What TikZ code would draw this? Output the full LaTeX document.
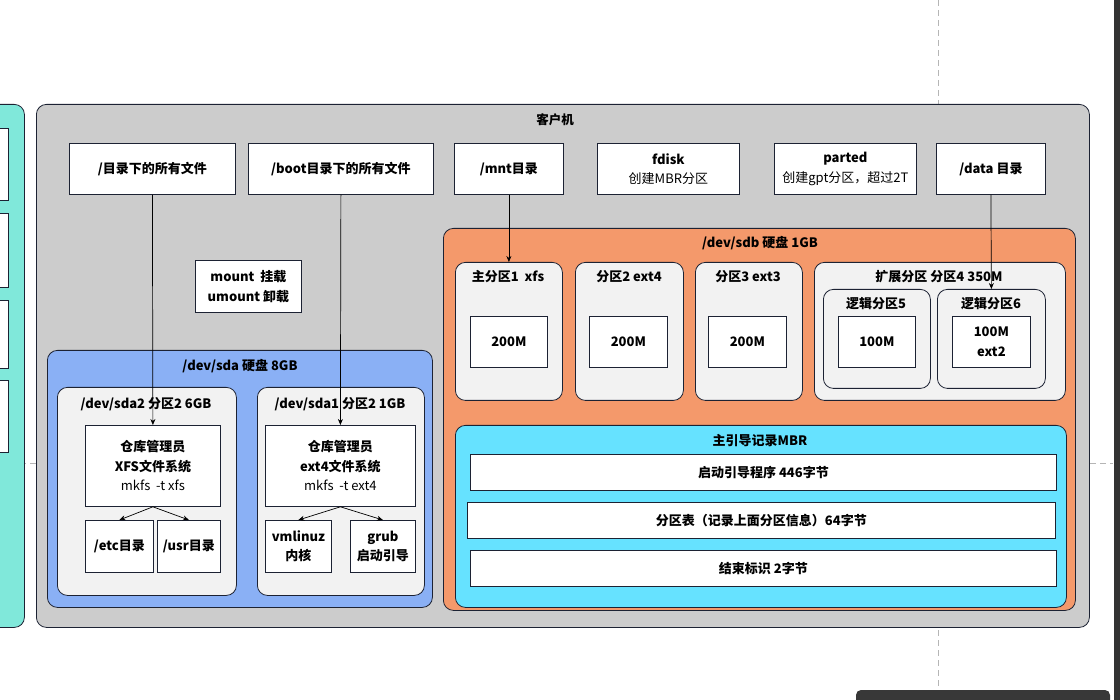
\documentclass[tikz,border=0pt]{standalone}
\usepackage{fontspec}
\setmainfont{Noto Sans CJK SC}
\usetikzlibrary{arrows.meta}
\definecolor{bd}{HTML}{1C2233}
\definecolor{graybg}{HTML}{CCCCCC}
\definecolor{aqua}{HTML}{80E8DA}
\definecolor{bluebg}{HTML}{8AB0F5}
\definecolor{orangebg}{HTML}{F4996B}
\definecolor{cyanbg}{HTML}{66E2FF}
\definecolor{partbg}{HTML}{F2F2F2}
\definecolor{guide}{HTML}{B5B5B5}
\newcommand{\cbox}[6]{\node[cont, fill=#6, anchor=north west, minimum width={(#4-#2)*1pt}, minimum height={(#5-#3)*1pt}] (#1) at (#2,#3) {};}
\newcommand{\wb}[6]{\node[wbox, anchor=north west, minimum width={(#4-#2)*1pt}, minimum height={(#5-#3)*1pt}] (#1) at (#2,#3) {#6};}
\begin{document}
\begin{tikzpicture}[x=1pt,y=-1pt,
  every node/.style={font=\fontsize{13}{19.5}\selectfont, text=black},
  wbox/.style={draw=bd, fill=white, line width=0.8pt, align=center, inner sep=0pt},
  cont/.style={draw=bd, line width=0.8pt, rounded corners=10pt, inner sep=0pt},
  ttl/.style={font=\fontsize{13}{19.5}\selectfont\bfseries, inner sep=0pt},
  arr/.style={-{Stealth[length=6pt,width=5pt]}, line width=0.7pt, black},
  guideline/.style={draw=guide, line width=0.8pt, dash pattern=on 6pt off 4pt}]
\useasboundingbox (0,0) rectangle (1120,700);
% screen guides
\coordinate (g1) at (938,0); \coordinate (g2) at (938,690);
\coordinate (g3) at (0,463); \coordinate (g4) at (1113,463);
\draw[guideline] (g1) -- (g2);
\draw[guideline] (g3) -- (g4);
% left partial panel
\cbox{left}{-30}{104}{24}{627}{aqua}
\wb{l1}{-20}{128}{8}{200}{}
\wb{l2}{-20}{213}{8}{287}{}
\wb{l3}{-20}{300}{8}{368}{}
\wb{l4}{-20}{380}{8}{452}{}
% main container
\cbox{host}{36}{104}{1089}{627}{graybg}
\node[ttl, font=\fontsize{12.5}{19}\selectfont\bfseries] (thost) at (555,120) {客户机};
% top row
\wb{root}{69}{143}{235}{194}{\bfseries /目录下的所有文件}
\wb{boot}{248}{143}{433}{194}{\bfseries /boot目录下的所有文件}
\wb{mnt}{454}{143}{563}{194}{\bfseries /mnt目录}
\wb{fdisk}{597}{143}{739}{194}{{\bfseries fdisk}\\创建MBR分区}
\wb{parted}{774}{143}{916}{194}{{\bfseries parted}\\创建gpt分区，超过2T}
\wb{data}{936}{143}{1045}{194}{\bfseries /data 目录}
\wb{mount}{195}{260}{301}{312}{{\bfseries mount\ \ 挂载}\\{\bfseries umount 卸载}}
% sda
\cbox{sda}{47}{350}{432}{607}{bluebg}
\node[ttl] (tsda) at (240,366) {/dev/sda 硬盘 8GB};
\cbox{sda2}{57}{387}{236}{595}{partbg}
\node[ttl] (tsda2) at (146,404) {/dev/sda2 分区2 6GB};
\cbox{sda1}{257}{387}{424}{595}{partbg}
\node[ttl] (tsda1) at (340,404) {/dev/sda1 分区2 1GB};
\wb{xfs}{85}{425}{220}{506}{{\bfseries 仓库管理员}\\{\bfseries XFS文件系统}\\mkfs\ \ -t xfs}
\wb{ext4}{265}{425}{415}{506}{{\bfseries 仓库管理员}\\{\bfseries ext4文件系统}\\mkfs\ \ -t ext4}
\wb{etc}{85}{520}{153}{572}{\bfseries /etc目录}
\wb{usr}{157}{520}{220}{572}{\bfseries /usr目录}
\wb{vmlinuz}{265}{520}{331}{572}{{\bfseries vmlinuz}\\{\bfseries 内核}}
\wb{grub}{350}{520}{415}{572}{{\bfseries grub}\\{\bfseries 启动引导}}
% sdb
\cbox{sdb}{443}{228}{1075}{610}{orangebg}
\node[ttl] (tsdb) at (760,243) {/dev/sdb 硬盘 1GB};
\cbox{p1}{455}{262}{562}{400}{partbg}
\node[ttl] (tp1) at (508,277) {主分区1\ \ xfs};
\cbox{p2}{575}{262}{683}{400}{partbg}
\node[ttl] (tp2) at (629,277) {分区2 ext4};
\cbox{p3}{695}{262}{802}{400}{partbg}
\node[ttl] (tp3) at (748,277) {分区3 ext3};
\cbox{p4}{814}{262}{1065}{400}{partbg}
\node[ttl] (tp4) at (939,277) {扩展分区 分区4 350M};
\cbox{p5}{823}{289}{930}{388}{partbg}
\node[ttl] (tp5) at (876,304) {逻辑分区5};
\cbox{p6}{937}{289}{1045}{388}{partbg}
\node[ttl] (tp6) at (991,304) {逻辑分区6};
\wb{s1}{470}{316}{547}{367}{\bfseries 200M}
\wb{s2}{589}{316}{667}{367}{\bfseries 200M}
\wb{s3}{708}{316}{786}{367}{\bfseries 200M}
\wb{s5}{838}{316}{915}{367}{\bfseries 100M}
\wb{s6}{952}{316}{1030}{367}{{\bfseries 100M}\\{\bfseries ext2}}
% MBR
\cbox{mbr}{455}{425}{1066}{607}{cyanbg}
\node[ttl] (tmbr) at (760,441) {主引导记录MBR};
\wb{boot446}{470}{454}{1056}{490}{\bfseries 启动引导程序 446字节}
\wb{ptable}{467}{502}{1055}{538}{\bfseries 分区表（记录上面分区信息）64字节}
\wb{endmark}{470}{550}{1056}{586}{\bfseries 结束标识 2字节}
% connectors
\draw[arr] (root.south) -- (xfs.north);
\draw[arr] (boot.south) -- (ext4.north);
\draw[arr] (mnt.south) -- (p1.north);
\draw[arr] (data.south) -- (p6.north);
\draw[arr] (xfs.south) -- (etc.north);
\draw[arr] (xfs.south) -- (usr.north);
\draw[arr] (ext4.south) -- (vmlinuz.north);
\draw[arr] (ext4.south) -- (grub.north);
% screen chrome
\fill[fill=black!78, rounded corners=5pt] (856,690) rectangle (1110,715);
\fill[fill=black!80] (1114,0) rectangle (1120,700);
\end{tikzpicture}
\end{document}
